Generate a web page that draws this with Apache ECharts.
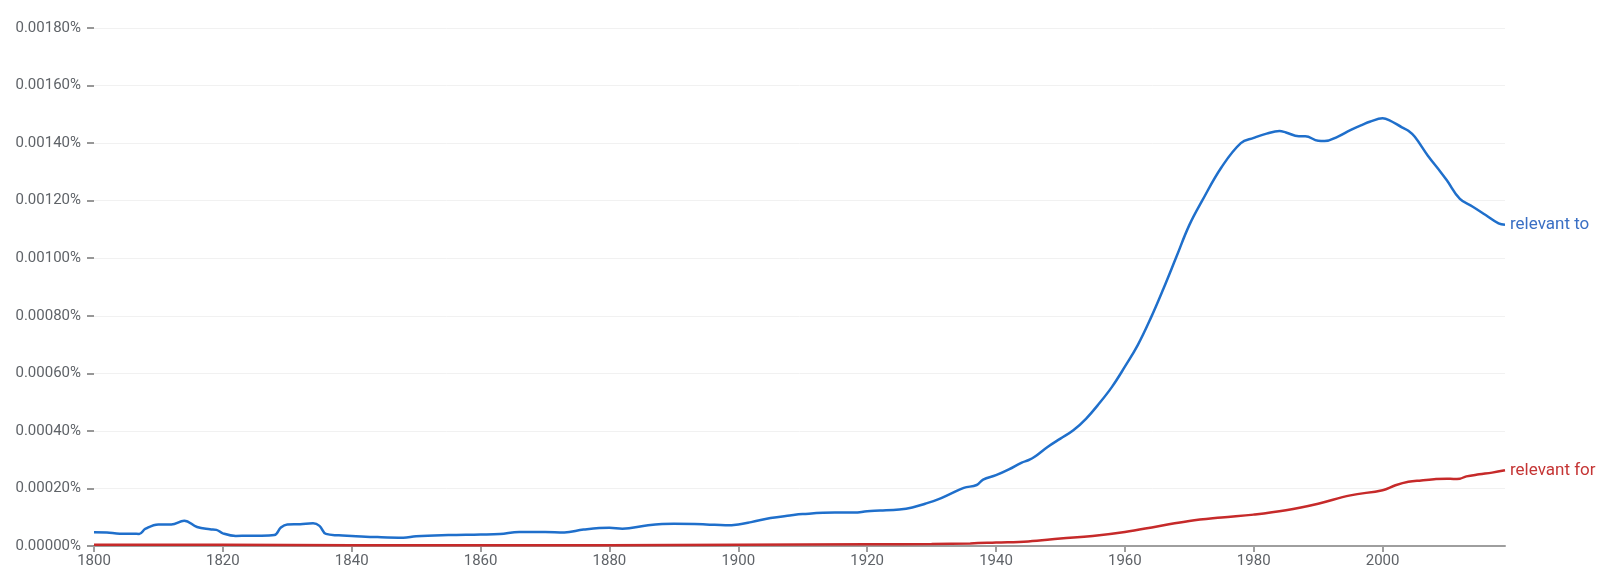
<!DOCTYPE html>
<html>
<head>
<meta charset="utf-8">
<script src="https://cdn.jsdelivr.net/npm/echarts@6/dist/echarts.min.js"></script>
<style>
html,body{margin:0;padding:0;background:#fff;}
#chart{width:1610px;height:575px;}
</style>
</head>
<body>
<div id="chart"></div>
<script>
// relevant to (percent)
var blueYears = [1800,1802,1804,1806,1807,1808,1810,1812,1814,1816,1818,1819,1820,1822,1824,1826,1828,1829,1830,1832,1834,1835,1836,1838,1840,1844,1848,1850,1855,1860,1863,1866,1870,1873,1876,1880,1882,1886,1890,1895,1898,1900,1902,1905,1908,1910,1915,1918,1920,1922,1925,1927,1929,1931,1933,1935,1937,1938,1940,1942,1944,1945,1946,1948,1950,1952,1954,1956,1958,1960,1962,1964,1966,1968,1970,1972,1975,1978,1980,1982,1984,1985,1987,1988,1990,1991,1993,1995,1997,1998,2000,2001,2003,2004,2005,2007,2009,2010,2012,2014,2016,2018,2019];
var blueVals = [0.000048,0.000047,0.000043,0.000043,0.000042,0.000060,0.000075,0.000075,0.000088,0.000066,0.000058,0.000056,0.000044,0.000035,0.000036,0.000036,0.000038,0.000064,0.000075,0.000076,0.000079,0.000070,0.000042,0.000037,0.000035,0.000031,0.000029,0.000034,0.000038,0.000040,0.000042,0.000049,0.000049,0.000047,0.000057,0.000063,0.000060,0.000072,0.000077,0.000075,0.000072,0.000075,0.000083,0.000097,0.000106,0.000111,0.000116,0.000116,0.000121,0.000123,0.000127,0.000134,0.000147,0.000162,0.000182,0.000202,0.000212,0.000231,0.000246,0.000266,0.000290,0.000298,0.000310,0.000344,0.000373,0.000402,0.000443,0.000495,0.000553,0.000623,0.000698,0.000791,0.000895,0.001005,0.001115,0.001200,0.001316,0.001400,0.001418,0.001433,0.001442,0.001437,0.001424,0.001424,0.001408,0.001407,0.001422,0.001445,0.001465,0.001474,0.001486,0.001480,0.001455,0.001443,0.001422,0.001357,0.001300,0.001270,0.001206,0.001179,0.001150,0.001121,0.001116];

// relevant for (percent)
var redYears = [1800,1820,1840,1860,1880,1900,1920,1930,1936,1940,1945,1950,1955,1960,1965,1970,1975,1980,1985,1990,1995,2000,2002,2004,2006,2008,2010,2011,2012,2013,2015,2017,2019];
var redVals = [0.000004,0.000004,0.000003,0.000003,0.000003,0.000004,0.000006,0.000007,0.000009,0.000012,0.000016,0.000026,0.000035,0.000049,0.000068,0.000087,0.000099,0.000109,0.000124,0.000147,0.000176,0.000194,0.000211,0.000223,0.000228,0.000232,0.000234,0.000233,0.000234,0.000242,0.000249,0.000255,0.000263];

var seriesNames = ['relevant to','relevant for'];
var seriesColors = ['#1f6fcb','#c62a2a'];

function pairs(xs, ys){
    var out = [];
    for(var i = 0;i<xs.length;i++){
        out.push([xs[i], ys[i]]);
    }
    return out;
}

var mychart = echarts.init(document.getElementById('chart'));
var option = {
    animation: false,
    grid: { left: 94, right: 105, top: 28, bottom: 29 },
    xAxis: {
        type: 'value',
        min: 1800,
        max: 2019,
        interval: 20,
        axisLine: { show: true, lineStyle: { color: '#9e9e9e', width: 2 } },
        axisTick: { show: true, length: 6, lineStyle: { color: '#9e9e9e', width: 2 } },
        axisLabel: {
            color: '#5f6368', fontSize: 15, fontFamily: 'Roboto', margin: 8,
            showMaxLabel: false,
            formatter: function(v){ return String(v); }
        },
        splitLine: { show: false }
    },
    yAxis: {
        type: 'value',
        min: 0,
        max: 0.0018,
        interval: 0.0002,
        axisLine: { show: false },
        axisTick: { show: true, length: 7, lineStyle: { color: '#757575', width: 1.5 } },
        axisLabel: {
            color: '#5f6368', fontSize: 15, fontFamily: 'Roboto', margin: 13,
            formatter: function(v){ return v.toFixed(5) + '%'; }
        },
        splitLine: { show: true, lineStyle: { color: '#f1f1f1', width: 1 } }
    },
    series: [
        {
            name: seriesNames[0],
            type: 'line',
            data: pairs(blueYears, blueVals),
            smooth: 0.4,
            showSymbol: false,
            lineStyle: { color: seriesColors[0], width: 2.5 },
            itemStyle: { color: seriesColors[0] },
            endLabel: {
                show: true, formatter: '{a}', color: '#3a6fc4',
                fontSize: 17, fontFamily: 'Roboto', distance: 5
            },
            z: 3
        },
        {
            name: seriesNames[1],
            type: 'line',
            data: pairs(redYears, redVals),
            smooth: 0.4,
            showSymbol: false,
            lineStyle: { color: seriesColors[1], width: 2.5 },
            itemStyle: { color: seriesColors[1] },
            endLabel: {
                show: true, formatter: '{a}', color: '#c53535',
                fontSize: 17, fontFamily: 'Roboto', distance: 5
            },
            z: 2
        }
    ]
};
mychart.setOption(option);
</script>
</body>
</html>
